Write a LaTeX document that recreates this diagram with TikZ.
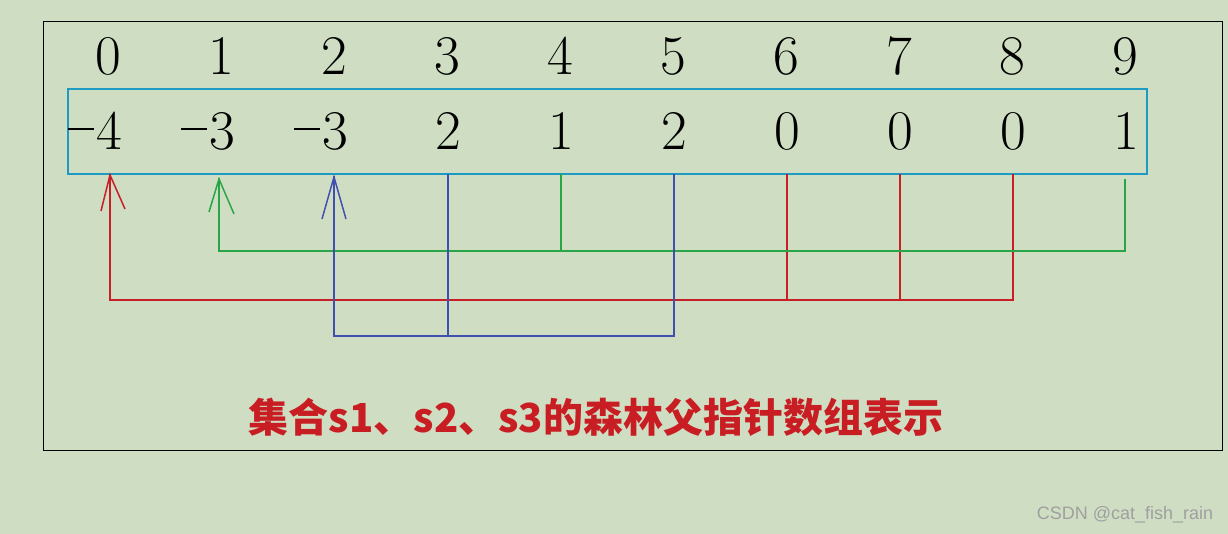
\documentclass[tikz,border=0pt]{standalone}
\usepackage{fontspec}
\newfontfamily\cjk{Noto Sans CJK SC}
\newfontfamily\wm{Liberation Sans}
\usetikzlibrary{calc}
\definecolor{bgc}{RGB}{207,222,195}
\definecolor{boxc}{RGB}{30,155,195}
\definecolor{redc}{RGB}{200,30,40}
\definecolor{greenc}{RGB}{40,165,70}
\definecolor{bluec}{RGB}{65,80,175}
\definecolor{titlec}{RGB}{200,30,35}
\newcommand{\mybar}{\llap{\rule[20pt]{26pt}{1.8pt}\kern2pt}}
\begin{document}
\begin{tikzpicture}[x=1pt,y=-1pt,
  digit/.style={font=\fontsize{56}{60}\selectfont, inner sep=0pt, text height=36pt, text depth=0pt, anchor=center},
  link/.style={line width=1.7pt, line cap=rect},
  tip/.style={line width=1.5pt}]
\fill[bgc] (0,0) rectangle (1228,534);
\useasboundingbox (0,0) rectangle (1228,534);
\draw[black, line width=1pt] (43,22) rectangle (1222,450);
\node[draw=boxc, line width=2pt, minimum width=1079pt, minimum height=85pt, inner sep=0pt] (box) at (607.5,131.5) {};
\foreach \i in {0,...,9} {
  \node[digit] (i\i) at (108+113*\i,57) {\i};
}
\foreach \v [count=\i from 0] in {{\mybar4},{\mybar3},{\mybar3},2,1,2,0,0,0,1} {
  \node[digit] (v\i) at (109+113*\i,132) {\v};
}
% levels
\coordinate (gl) at (0,251);
\coordinate (rl) at (0,300);
\coordinate (bl) at (0,336);
\coordinate (gtop) at (0,180);
% red set
\coordinate (ra) at ($(v0 |- box.south)+(1,0)$);
\draw[redc,link] (ra) -- (ra |- rl) -- (v8 |- rl) -- (v8 |- box.south);
\draw[redc,link] (v6 |- box.south) -- (v6 |- rl);
\draw[redc,link] (v7 |- box.south) -- (v7 |- rl);
\draw[redc,tip] ($(ra)+(-9,36)$) -- (ra) -- ($(ra)+(15,34)$);
% green set
\coordinate (ga) at ($(v1 |- box.south)+(-3,4)$);
\draw[greenc,link] (ga) -- (ga |- gl) -- ($(v9 |- gl)+(-1,0)$) -- ($(v9 |- gtop)+(-1,0)$);
\draw[greenc,link] (v4 |- box.south) -- (v4 |- gl);
\draw[greenc,tip] ($(ga)+(-10,33)$) -- (ga) -- ($(ga)+(15,35)$);
% blue set
\coordinate (ba) at ($(v2 |- box.south)+(-1,2)$);
\draw[bluec,link] (ba) -- (ba |- bl) -- (v5 |- bl) -- (v5 |- box.south);
\draw[bluec,link] (v3 |- box.south) -- (v3 |- bl);
\draw[bluec,tip] ($(ba)+(-12,42)$) -- (ba) -- ($(ba)+(12,42)$);
% title
\node[text=titlec, font=\cjk\bfseries\fontsize{40}{44}\selectfont, inner sep=0pt] (title) at (596,417) {集合s1、s2、s3的森林父指针数组表示};
\node[text=gray!75, font=\wm\fontsize{18}{20}\selectfont, inner sep=0pt] (mark) at (1125,515) {CSDN @cat\_fish\_rain};
\end{tikzpicture}
\end{document}
